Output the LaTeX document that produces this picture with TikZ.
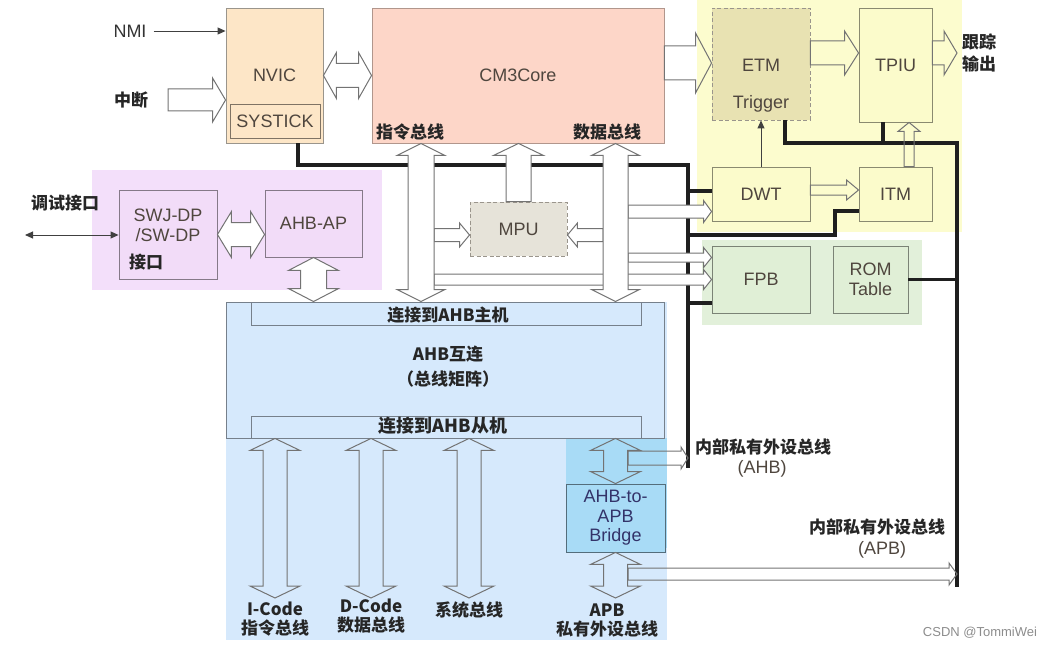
\documentclass[tikz,border=0pt]{standalone}
\usepackage{fontspec}
\setmainfont{Liberation Sans}
\newfontfamily\cjk{Noto Sans CJK SC}
\usetikzlibrary{positioning, calc, arrows.meta}

\definecolor{boxedge}{HTML}{9A958C}
\definecolor{boxtext}{HTML}{4F463E}
\definecolor{debugzone}{HTML}{F3DFFA}
\definecolor{tracezone}{HTML}{FCFCCE}
\definecolor{romzone}{HTML}{E2F0DA}
\definecolor{buszone}{HTML}{D6E9FC}
\definecolor{bridgezone}{HTML}{A8DBF6}
\definecolor{nvicfill}{HTML}{FDE6C7}
\definecolor{corefill}{HTML}{FDD6C8}
\definecolor{etmfill}{HTML}{E8E2B2}
\definecolor{tracefill}{HTML}{FBFBCB}
\definecolor{romfill}{HTML}{E0EFD6}
\definecolor{swjfill}{HTML}{F2DCF8}
\definecolor{mpufill}{HTML}{E6E3D9}

% hollow bus arrows: [style]{from}{to}{head half width}{shaft half width}{head length}
\newcommand\fatarrow[6][]{%
  \path #2 coordinate (fa) #3 coordinate (fb);
  \path ($(fb)!#6!(fa)$) coordinate (fc);
  \draw[hollow,#1] ($(fa)!#5!90:(fb)$) -- ($(fc)!#5!90:(fb)$) -- ($(fc)!#4!90:(fb)$) -- (fb)
    -- ($(fc)!#4!270:(fb)$) -- ($(fc)!#5!270:(fb)$) -- ($(fa)!#5!270:(fb)$) -- cycle;}
\newcommand\fatdouble[6][]{%
  \path #2 coordinate (fa) #3 coordinate (fb);
  \path ($(fa)!#6!(fb)$) coordinate (fc) ($(fb)!#6!(fa)$) coordinate (fd);
  \draw[hollow,#1] (fa) -- ($(fc)!#4!90:(fb)$) -- ($(fc)!#5!90:(fb)$) -- ($(fd)!#5!270:(fa)$)
    -- ($(fd)!#4!270:(fa)$) -- (fb) -- ($(fd)!#4!90:(fa)$) -- ($(fd)!#5!90:(fa)$)
    -- ($(fc)!#5!270:(fb)$) -- ($(fc)!#4!270:(fb)$) -- cycle;}

\begin{document}
\begin{tikzpicture}[x=1pt, y=-1pt, >={Triangle[length=8pt, width=7pt]},
    wh/.style 2 args={minimum width=#1pt, minimum height=#2pt},
    blk/.style={draw=boxedge, line width=0.9pt, inner sep=0pt, align=center, text=boxtext, font=\fontsize{18}{19.5}\selectfont},
    dashblk/.style={blk, dash pattern=on 4pt off 2.5pt},
    txt/.style={inner sep=1pt, align=center, text=boxtext, font=\fontsize{18}{19.5}\selectfont},
    cjklabel/.style={inner sep=1pt, align=center, text=black!85, font=\cjk\bfseries\fontsize{17}{19}\selectfont},
    ppb/.style={draw=black!88, line width=3.2pt},
    thinline/.style={draw=black!75, line width=0.9pt},
    hollow/.style={draw=black!55, line width=1pt, fill=white},
  ]
  \useasboundingbox (0,0) rectangle (1041,650);

  % zones
  \fill[debugzone] (92,170) rectangle (382,290);
  \fill[tracezone] (697,0) rectangle (962,232);
  \fill[romzone] (702,240) rectangle (922,325);
  \fill[buszone] (226,302) rectangle (667,640);
  \fill[bridgezone] (566,438) rectangle (667,548);

  % core side
  \node[blk, fill=nvicfill, wh={97}{135}] (nvic) at (274.5,75.5) {NVIC};
  \node[blk, fill=nvicfill, draw=nvicfill!50!black, wh={90}{34}] (systick) at (275,121) {SYSTICK};
  \node[blk, fill=corefill, draw=corefill!70!black, wh={292}{135}] (core) at (518,75.5) {CM3Core};
  \node[cjklabel] (ilabel) at (410,132) {指令总线};
  \node[cjklabel] (dlabel) at (607,132) {数据总线};

  % trace and debug blocks
  \node[dashblk, fill=etmfill, wh={98}{112}] (etm) at (761,64) {};
  \node[txt] (etmname) at (761,65) {ETM};
  \node[txt] (etmtrig) at (761,104) {Trigger};
  \node[blk, fill=tracefill, draw=tracefill!55!black, wh={73}{114}] (tpiu) at (895.5,65) {TPIU};
  \node[blk, fill=tracefill, draw=tracefill!55!black, wh={98}{54}] (dwt) at (761,194) {DWT};
  \node[blk, fill=tracefill, draw=tracefill!55!black, wh={73}{54}] (itm) at (895.5,194) {ITM};
  \node[blk, fill=romfill, draw=romfill!55!black, wh={98}{67}] (fpb) at (761,279.5) {FPB};
  \node[blk, fill=romfill, draw=romfill!55!black, wh={75}{67}] (rom) at (870.5,279.5) {ROM\\Table};
  \node[blk, fill=swjfill, draw=swjfill!55!black, wh={98}{89}] (swj) at (168,234.5) {};
  \node[txt] (swjname) at (168,225.5) {SWJ-DP\\/SW-DP};
  \node[cjklabel] (swjport) at (146,262) {接口};
  \node[blk, fill=swjfill, draw=swjfill!55!black, wh={97}{67}] (ahbap) at (313.5,223.5) {AHB-AP};
  \node[dashblk, fill=mpufill, wh={97}{54}] (mpu) at (518.5,229) {MPU};

  % bus matrix
  \node[blk, fill=buszone, draw=buszone!55!black, wh={438}{136}] (ahb) at (445,370) {};
  \node[blk, fill=buszone, draw=buszone!55!black, wh={390}{23}] (master) at (446,313.5) {};
  \node[cjklabel] (mastername) at (448,315) {连接到AHB主机};
  \node[blk, fill=buszone, draw=buszone!55!black, wh={390}{22}] (slave) at (446,427) {};
  \node[cjklabel, font=\cjk\bfseries\fontsize{18}{19}\selectfont] (slavename) at (443,426) {连接到AHB从机};
  \node[cjklabel, font=\cjk\bfseries\fontsize{17}{25}\selectfont] (ahbname) at (448,367) {AHB互连\\（总线矩阵）};
  \node[blk, fill=bridgezone, draw=bridgezone!50!black, text=black!65!blue!60!gray, wh={99}{68}] (bridge) at (615.5,518) {AHB-to-\\APB\\Bridge};

  % private peripheral bus
  \coordinate (ppbL) at (688,165);
  \coordinate (ppbLend) at (688,468);
  \coordinate (ppbR) at (957,143);
  \coordinate (ppbRend) at (957,587);
  \draw[ppb] (nvic.south -| 298,0) |- (ppbL) -- (ppbLend);
  \draw[ppb] (ppbL |- 0,191) -- (dwt.west |- 0,191);
  \draw[ppb] (ppbL |- 0,235) -| (835,211) -- (itm.west |- 0,211);
  \draw[ppb] (ppbL |- 0,303) -- (fpb.west |- 0,303);
  \draw[ppb] (etm.south -| 785,0) |- (ppbR) -- (ppbRend);
  \draw[ppb] (tpiu.south -| 883,0) -- (ppbR -| 883,0);
  \draw[ppb] (rom.east) -- (rom.east -| ppbR);

  % inputs
  \node[txt, text=black!80] (nmi) at (130,31) {NMI};
  \draw[thinline, ->] ([xshift=6pt]nmi.east) -- (nmi -| nvic.west);
  \node[cjklabel] (irq) at (131,100) {中断};
  \fatarrow{(irq.east -| 168,0)}{(irq -| nvic.west)}{22pt}{11pt}{13pt}
  \node[cjklabel] (dbgname) at (65,203) {调试接口};
  \coordinate (dbg) at (25,235);
  \draw[thinline, <->] (dbg) -- (swj.west |- dbg);
  \draw[thinline, ->] (dwt.north) -- (etm.south);

  % trace path
  \node[cjklabel, font=\cjk\bfseries\fontsize{17}{22}\selectfont, anchor=west] (trace) at (961,53) {跟踪\\输出};
  \coordinate (traceout) at (957,53);
  \fatdouble{(nvic.east)}{(core.west)}{23pt}{12pt}{13pt}
  \fatarrow[fill=none]{(core.east |- 0,63)}{(etm.west |- 0,63)}{30pt}{17pt}{16pt}
  \fatarrow[fill=none]{(etm.east |- 0,53)}{(tpiu.west |- 0,53)}{22pt}{12pt}{14pt}
  \fatarrow[fill=none]{(tpiu.east |- 0,53)}{(traceout)}{22pt}{12pt}{13pt}
  \fatarrow[fill=none]{(dwt.east |- 0,190)}{(itm.west |- 0,190)}{10pt}{5pt}{12pt}
  \fatarrow[fill=none]{(itm.north -| 909,0)}{(tpiu.south -| 909,0)}{11pt}{5pt}{9pt}

  % debug access
  \fatdouble{(swj.east)}{(ahbap.west |- swj.east)}{23pt}{12pt}{14pt}
  \fatdouble{(ahbap.south)}{(ahbap.south |- ahb.north)}{25pt}{13pt}{13pt}

  % core buses
  \coordinate (ibus) at (421,0);
  \coordinate (dbus) at (615.5,0);
  \fatarrow{(434,235)}{(mpu.west |- 0,235)}{12pt}{6.5pt}{10pt}
  \fatarrow{(603,235)}{(mpu.east |- 0,235)}{12pt}{6.5pt}{10pt}
  \fatarrow{(628,211.5)}{(dwt.west |- 0,211.5)}{11pt}{6.5pt}{8pt}
  \fatarrow{(628,257.5)}{(fpb.west |- 0,257.5)}{10pt}{4.5pt}{8pt}
  \fatarrow{(434,279.5)}{(fpb.west |- 0,279.5)}{10pt}{5.5pt}{8pt}
  \fatdouble{(core.south -| ibus)}{(ahb.north -| ibus)}{24pt}{13pt}{12pt}
  \fatarrow{(mpu.north)}{(core.south -| mpu.north)}{25pt}{12.5pt}{12pt}
  \fatdouble{(core.south -| dbus)}{(ahb.north -| dbus)}{24pt}{12.5pt}{12pt}

  % slave buses
  \node[cjklabel] (icode) at (275,619) {I-Code\\指令总线};
  \node[cjklabel] (dcode) at (371,616) {D-Code\\数据总线};
  \node[cjklabel] (sysbus) at (469,610) {系统总线};
  \node[cjklabel] (apb) at (607,620) {APB\\私有外设总线};
  \fatdouble[fill=none]{(icode |- ahb.south)}{(icode |- 0,598)}{25pt}{12pt}{12pt}
  \fatdouble[fill=none]{(dcode |- ahb.south)}{(dcode |- 0,598)}{25pt}{12pt}{12pt}
  \fatdouble[fill=none]{(sysbus |- ahb.south)}{(sysbus |- 0,598)}{25pt}{12pt}{12pt}
  \fatarrow[fill=none]{(628,458)}{(ppbLend |- 0,458)}{11pt}{7pt}{7pt}
  \fatarrow[fill=none]{(628,574)}{(ppbRend |- 0,574)}{11pt}{6pt}{8pt}
  \fatdouble[fill=none]{(bridge.north |- ahb.south)}{(bridge.north)}{25pt}{12pt}{12pt}
  \fatdouble[fill=none]{(bridge.south)}{(bridge.south |- 0,598)}{25pt}{12pt}{12pt}

  % bus names
  \node[cjklabel] (ahbppb) at (763,447) {内部私有外设总线};
  \node[txt] (ahbppbname) at (762,469) {(AHB)};
  \node[cjklabel] (apbppb) at (877,527) {内部私有外设总线};
  \node[txt] (apbppbname) at (882,550) {(APB)};
  \node[text=black!45, font=\fontsize{13}{15}\selectfont] (mark) at (980,633) {CSDN @TommiWei};
\end{tikzpicture}
\end{document}
